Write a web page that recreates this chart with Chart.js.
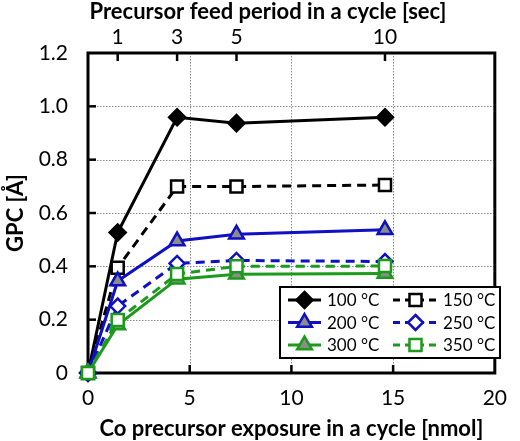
<!DOCTYPE html>
<html><head><meta charset="utf-8">
<script src="https://cdn.jsdelivr.net/npm/chart.js@4.4.1/dist/chart.umd.min.js"></script>
<style>html,body{margin:0;padding:0;background:#fff}#wrap{width:520px;height:441px}</style>
</head><body><div id="wrap"><canvas id="c" width="520" height="441"></canvas></div>
<script>
// ---- data ----
const exposure = [0, 1.46, 4.38, 7.3, 14.6];          // nmol
const feedLabels = ['1', '3', '5', '10'];             // sec (top axis)
const feedPositions = [1.46, 4.38, 7.3, 14.6];        // nmol equivalent of feed periods
const seriesNames = ['100 °C', '150 °C', '200 °C', '250 °C', '300 °C', '350 °C'];
const gpc100 = [0, 0.527, 0.959, 0.937, 0.959];
const gpc150 = [0, 0.395, 0.699, 0.699, 0.705];
const gpc200 = [0, 0.345, 0.495, 0.520, 0.537];
const gpc250 = [0, 0.251, 0.411, 0.422, 0.418];
const gpc300 = [0, 0.180, 0.352, 0.370, 0.373];
const gpc350 = [0, 0.199, 0.371, 0.400, 0.401];
const yTicks = [0, 0.2, 0.4, 0.6, 0.8, 1.0, 1.2];
const xTicks = [0, 5, 10, 15, 20];
const topTitle = 'Precursor feed period in a cycle [sec]';

const BLUE = '#0f0fc4', GREEN = '#1c9a1c', GRAY = '#8c8c8c';
const FONT = 'Lato';

function pts(arr){ return exposure.map((x,i)=>({x:x, y:arr[i]})); }

const styles = [
  {color:'#000', dash:[], style:'rectRot', fill:'#000', r:8},
  {color:'#000', dash:[9,6], style:'rect', fill:'#fff', r:8.5},
  {color:BLUE, dash:[], style:'triangle', fill:GRAY, r:8.5},
  {color:BLUE, dash:[9,6], style:'rectRot', fill:'#fff', r:7.5},
  {color:GREEN, dash:[], style:'triangle', fill:GRAY, r:8.5},
  {color:GREEN, dash:[9,6], style:'rect', fill:'#fff', r:8.5},
];
const allSeries = [gpc100, gpc150, gpc200, gpc250, gpc300, gpc350];

const datasets = allSeries.map((s,i)=>({
  label: seriesNames[i],
  data: pts(s),
  showLine: true,
  borderColor: styles[i].color,
  borderWidth: 3,
  borderDash: styles[i].dash,
  pointStyle: styles[i].style,
  pointRadius: styles[i].r,
  pointBackgroundColor: styles[i].fill,
  pointBorderColor: styles[i].color,
  pointBorderWidth: 2.5,
  tension: 0,
  clip: false,
  order: 6 - i
}));

function drawMarker(ctx, style, r, x, y, fill, stroke, lw){
  ctx.save();
  ctx.beginPath();
  if (style === 'rect'){
    const s = r*Math.SQRT1_2;
    ctx.rect(x-s, y-s, 2*s, 2*s);
  } else if (style === 'rectRot'){
    ctx.moveTo(x, y-r); ctx.lineTo(x+r, y); ctx.lineTo(x, y+r); ctx.lineTo(x-r, y); ctx.closePath();
  } else if (style === 'triangle'){
    for (let k=0;k<3;k++){
      const a = k*2*Math.PI/3;
      const px = x + Math.sin(a)*r, py = y - Math.cos(a)*r;
      if (k===0) ctx.moveTo(px,py); else ctx.lineTo(px,py);
    }
    ctx.closePath();
  }
  ctx.fillStyle = fill; ctx.fill();
  ctx.lineWidth = lw; ctx.strokeStyle = stroke; ctx.setLineDash([]); ctx.stroke();
  ctx.restore();
}

const framePlugin = {
  id: 'frame',
  beforeDatasetsDraw(chart){
    const {ctx, chartArea:a, scales} = chart;
    ctx.save();
    // dotted grid
    ctx.strokeStyle = '#8a8a8a'; ctx.lineWidth = 1; ctx.setLineDash([1.5, 1.5]);
    scales.y.ticks.forEach(t=>{ if (t.value>0 && t.value<1.2){ const p = Math.round(scales.y.getPixelForValue(t.value))+0.5; ctx.beginPath(); ctx.moveTo(a.left, p); ctx.lineTo(a.right, p); ctx.stroke(); }});
    scales.x.ticks.forEach(t=>{ if (t.value>0 && t.value<20){ const p = Math.round(scales.x.getPixelForValue(t.value))+0.5; ctx.beginPath(); ctx.moveTo(p, a.top); ctx.lineTo(p, a.bottom); ctx.stroke(); }});
    ctx.setLineDash([]);
    ctx.strokeStyle = '#000'; ctx.lineWidth = 2.5;
    const L = 8;
    // inside tick marks
    scales.y.ticks.forEach(t=>{ if (t.value>0 && t.value<1.2){ const p = scales.y.getPixelForValue(t.value); ctx.beginPath(); ctx.moveTo(a.left, p); ctx.lineTo(a.left+L, p); ctx.stroke(); }});
    scales.x.ticks.forEach(t=>{ if (t.value>0 && t.value<20){ const p = scales.x.getPixelForValue(t.value); ctx.beginPath(); ctx.moveTo(p, a.bottom); ctx.lineTo(p, a.bottom-L); ctx.stroke(); }});
    scales.x2.ticks.forEach(t=>{ const p = scales.x2.getPixelForValue(t.value); ctx.beginPath(); ctx.moveTo(p, a.top); ctx.lineTo(p, a.top+L); ctx.stroke(); });
    ctx.lineWidth = 3;
    ctx.strokeRect(a.left, a.top, a.right-a.left, a.bottom-a.top);
    // top axis title (offset left as in the original figure)
    ctx.font = 'bold 22px ' + FONT;
    ctx.fillStyle = '#000'; ctx.textAlign = 'center'; ctx.textBaseline = 'middle';
    ctx.fillText(topTitle, 268, 12);
    ctx.restore();
  },
  afterDatasetsDraw(chart){
    const ctx = chart.ctx;
    // legend box
    const bx = 280, by = 287, bw = 220, bh = 71;
    ctx.save();
    ctx.fillStyle = '#fff'; ctx.fillRect(bx, by, bw, bh);
    ctx.strokeStyle = '#000'; ctx.lineWidth = 2; ctx.setLineDash([]);
    ctx.strokeRect(bx, by, bw, bh);
    const colX = [[288, 321, 327], [393, 438, 443]];
    const rowY = [300, 322.5, 345];
    ctx.font = '17px ' + FONT;
    ctx.textBaseline = 'middle';
    ctx.fillStyle = '#000';
    chart.data.datasets.forEach((d,i)=>{
      const c = colX[i%2], y = rowY[Math.floor(i/2)];
      ctx.beginPath();
      ctx.strokeStyle = d.borderColor; ctx.lineWidth = 3; ctx.setLineDash(d.borderDash.length? [7,5]:[]);
      ctx.moveTo(c[0], y); ctx.lineTo(c[1], y); ctx.stroke();
      drawMarker(ctx, d.pointStyle, d.pointRadius, (c[0]+c[1])/2, y, d.pointBackgroundColor, d.pointBorderColor, d.pointBorderWidth);
      ctx.fillStyle = '#000';
      ctx.fillText(d.label, c[2], y+1);
    });
    ctx.restore();
  }
};

new Chart(document.getElementById('c'), {
  type: 'scatter',
  data: { datasets },
  options: {
    responsive: false,
    devicePixelRatio: 1,
    animation: false,
    layout: { padding: { left: 0, right: 9, top: 0, bottom: 0 } },
    plugins: { legend: { display: false }, tooltip: { enabled: false } },
    scales: {
      x: {
        type: 'linear', position: 'bottom', min: 0, max: 20,
        afterBuildTicks: s => { s.ticks = xTicks.map(v=>({value:v})); },
        ticks: { font: { family: FONT, size: 21 }, color: '#000', padding: 13, maxRotation: 0,
                 callback: v => String(v) },
        grid: { display: false, drawTicks: false },
        border: { display: false },
        title: { display: true, text: 'Co precursor exposure in a cycle [nmol]', font: { family: FONT, size: 22, weight: 'bold', lineHeight: 1.1 }, color: '#000', padding: { top: 4, bottom: 0 } },
        afterFit: s => { s.height = 68; }
      },
      x2: {
        type: 'linear', position: 'top', min: 0, max: 20,
        afterBuildTicks: s => { s.ticks = feedPositions.map(v=>({value:v})); },
        ticks: { font: { family: FONT, size: 21 }, color: '#000', padding: 3, maxRotation: 0, autoSkip: false,
                 callback: (v, i) => feedLabels[i] },
        grid: { display: false, drawTicks: false },
        border: { display: false },
        title: { display: false },
        afterFit: s => { s.height = 53; }
      },
      y: {
        type: 'linear', position: 'left', min: 0, max: 1.2,
        afterBuildTicks: s => { s.ticks = yTicks.map(v=>({value:v})); },
        ticks: { font: { family: FONT, size: 21 }, color: '#000', padding: 20,
                 callback: v => v === 0 ? '0' : v.toFixed(1) },
        grid: { display: false, drawTicks: false },
        border: { display: false },
        title: { display: true, text: 'GPC [Å]', font: { family: FONT, size: 22, weight: 'bold' }, color: '#000', padding: { top: 3, bottom: 0 } },
        afterFit: s => { s.width = 88; }
      }
    }
  },
  plugins: [framePlugin]
});
</script>
</body></html>
